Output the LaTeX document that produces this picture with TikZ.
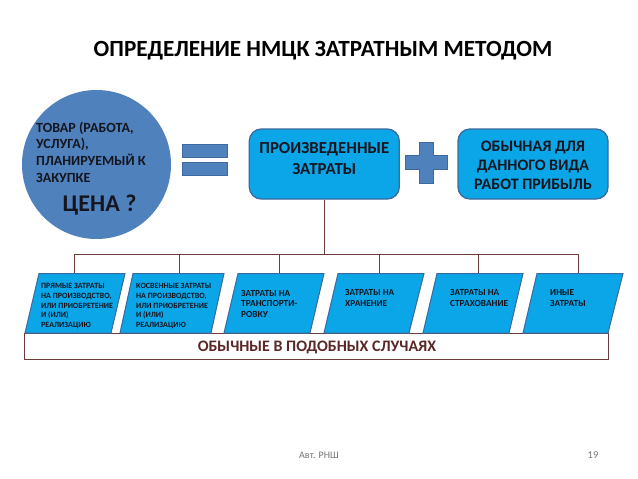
\documentclass[tikz,border=0pt]{standalone}
\usepackage{fontspec}
\setmainfont{Carlito}
\definecolor{blueA}{HTML}{4F81BD}
\definecolor{blueB}{HTML}{3C6A9E}
\definecolor{cyanA}{HTML}{0AA6E8}
\definecolor{brownA}{HTML}{6E3B3B}
\definecolor{brownT}{HTML}{5A2828}
\definecolor{inkA}{HTML}{15151F}
\tikzset{
  wire/.style={draw=brownA,line width=1pt},
  roundbox/.style={draw=blueB,line width=1.3pt,fill=cyanA,rounded corners=12pt,inner sep=0pt},
  parabox/.style={draw=blueB,line width=1pt,fill=cyanA,line join=miter},
  blueshape/.style={draw=blueB,line width=0.8pt,fill=blueA},
  smalltext/.style={font=\fontsize{8}{9.6}\selectfont\bfseries,text=inkA,align=left,anchor=west,inner sep=0pt},
  midtext/.style={font=\fontsize{9.3}{10.5}\selectfont\bfseries,text=inkA,align=left,anchor=west,inner sep=0pt},
  boxtext/.style={font=\fontsize{16.8}{20.5}\selectfont\bfseries,text=inkA,align=center},
}
\begin{document}
\begin{tikzpicture}[x=1pt,y=-1pt]
\useasboundingbox (0,0) rectangle (638,479);
\fill[white] (0,0) rectangle (638,479);
\node[font=\fontsize{23.2}{27}\selectfont\bfseries,text=black] (title) at (323,51) {ОПРЕДЕЛЕНИЕ НМЦК ЗАТРАТНЫМ МЕТОДОМ};
% circle
\node[circle,fill=blueA,minimum size=149pt,inner sep=0pt] (goods) at (96.5,164.5) {};
\node[font=\fontsize{14}{16.7}\selectfont\bfseries,text=inkA,align=left,anchor=west,inner sep=0pt] (goodstext) at (36,152) {ТОВАР (РАБОТА,\\УСЛУГА),\\ПЛАНИРУЕМЫЙ К\\ЗАКУПКЕ};
\node[font=\fontsize{24}{28}\selectfont\bfseries,text=inkA] (price) at (99.5,205) {ЦЕНА ?};
% equals
\draw[blueshape] (182,144) rectangle (227,157);
\draw[blueshape] (182,162) rectangle (227,175);
% boxes
\node[roundbox,minimum width=150pt,minimum height=70pt] (costs) at (324.3,164) {};
\node[boxtext] (coststext) at (324.3,158.5) {ПРОИЗВЕДЕННЫЕ\\ЗАТРАТЫ};
\node[roundbox,minimum width=150pt,minimum height=70pt] (profit) at (533,164) {};
\node[boxtext,font=\fontsize{16}{19}\selectfont\bfseries] (profittext) at (533,165) {ОБЫЧНАЯ ДЛЯ\\ДАННОГО ВИДА\\РАБОТ ПРИБЫЛЬ};
% plus
\draw[blueshape] (419,142) -- (433,142) -- (433,155) -- (447,155) -- (447,169) -- (433,169) -- (433,183) -- (419,183) -- (419,169) -- (405,169) -- (405,155) -- (419,155) -- cycle;
% band
\node[draw=brownA,line width=1pt,fill=white,minimum width=583.5pt,minimum height=26pt,inner sep=0pt] (band) at (316.25,346) {};
\node[font=\fontsize{16}{19}\selectfont\bfseries,text=brownT] (bandtext) at (317,347) {ОБЫЧНЫЕ В ПОДОБНЫХ СЛУЧАЯХ};
% bus
\coordinate (bus0) at (costs.south |- 0,254);
\coordinate (b1) at (74,254);
\coordinate (b2) at (179,254);
\coordinate (b3) at (279,254);
\coordinate (b4) at (379,254);
\coordinate (b5) at (478,254);
\coordinate (b6) at (578,254);
\coordinate (p1t) at (74,273.5);
\coordinate (p2t) at (179,273.5);
\coordinate (p3t) at (279,273.5);
\coordinate (p4t) at (379,273.5);
\coordinate (p5t) at (478,273.5);
\coordinate (p6t) at (578,273.5);
\draw[wire] (costs.south) -- (bus0);
\draw[wire] (b1) -- (b6);
\foreach \i in {1,...,6} \draw[wire] (b\i) -- (p\i t);
% parallelograms
\draw[parabox] (25,333) -- (39,273.5) -- (125,273.5) -- (111,333) -- cycle;
\draw[parabox] (120,333) -- (133,273.5) -- (224,273.5) -- (211,333) -- cycle;
\draw[parabox] (224,333) -- (238,273.5) -- (324,273.5) -- (310,333) -- cycle;
\draw[parabox] (324,333) -- (338,273.5) -- (424,273.5) -- (409,333) -- cycle;
\draw[parabox] (423,333) -- (437,273.5) -- (523,273.5) -- (509,333) -- cycle;
\draw[parabox] (523,333) -- (537,273.5) -- (623,273.5) -- (608,333) -- cycle;
% parallelogram texts
\node[smalltext] (t1) at (41,306) {ПРЯМЫЕ ЗАТРАТЫ\\НА ПРОИЗВОДСТВО,\\ИЛИ ПРИОБРЕТЕНИЕ\\И (ИЛИ)\\РЕАЛИЗАЦИЮ};
\node[smalltext] (t2) at (136,306) {КОСВЕННЫЕ ЗАТРАТЫ\\НА ПРОИЗВОДСТВО,\\ИЛИ ПРИОБРЕТЕНИЕ\\И (ИЛИ)\\РЕАЛИЗАЦИЮ};
\node[midtext] (t3) at (241,303.5) {ЗАТРАТЫ НА\\ТРАНСПОРТИ-\\РОВКУ};
\node[midtext] (t4) at (345,298) {ЗАТРАТЫ НА\\ХРАНЕНИЕ};
\node[midtext] (t5) at (450,298) {ЗАТРАТЫ НА\\СТРАХОВАНИЕ};
\node[midtext] (t6) at (550,298) {ИНЫЕ\\ЗАТРАТЫ};
% footer
\node[font=\fontsize{10}{12}\selectfont,text=black!55] (author) at (319,455.5) {Авт. РНШ};
\node[font=\fontsize{10.5}{12}\selectfont,text=black!55] (pageno) at (593,455.5) {19};
\end{tikzpicture}
\end{document}
